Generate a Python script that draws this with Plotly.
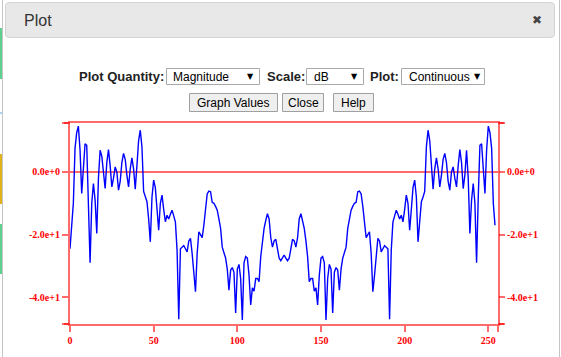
import plotly.graph_objects as go

# ---------------- data ----------------
bins = list(range(256))
magnitude_db = [
    -24.5, -17, -10, 7.5, 12.5, 14.6, 7, -6.9, 2, 9,
    8.5, -8, -29, -10, -3.7, -9, -19.6, -2, 6.9, 5,
    -1, -5.3, 3, 7.1, 2, -4.8, -2, 1.6, 0, -5.8,
    -3, 3, 5.9, 4, -1, -4.8, 1, 4.5, 1, -5.5,
    2, 10, 13.3, 8, -6.2, -8, -9.5, -15, -22.3, -8,
    -2.6, -5, -12, -18.6, -10, -7.4, -12, -15.9, -13.8, -15,
    -13.5, -12.2, -14, -16, -25, -47, -24.5, -24, -23.5, -24.5,
    -25.5, -22, -21.2, -26, -33, -38.2, -26, -19.1, -20, -21,
    -17, -11, -7, -6.1, -6.3, -9.7, -10, -11, -12.2, -15,
    -18, -24, -25.5, -27.5, -31, -37.7, -31.3, -30.5, -32, -45,
    -31, -29.5, -34, -47.2, -29, -27, -27.5, -33, -42.4, -37,
    -38, -34, -34, -35, -27, -22, -18, -15.5, -13.3, -15,
    -21, -24, -22, -21.5, -25, -27.5, -28.3, -27.5, -26.5,
    # k = 129 .. 255
    -27.5, -28.3, -27.5, -25, -21.5, -22, -24, -21, -15, -13.3,
    -15.5, -18, -22, -27, -35, -34, -34, -38, -37, -42.4,
    -33, -27.5, -27, -29, -47.2, -34, -29.5, -31, -45, -32,
    -30.5, -31.3, -37.7, -31, -27.5, -25.5, -24, -18, -15, -12.2,
    -11, -10, -9.7, -6.3, -6.1, -7, -11, -17, -21, -20,
    -19.1, -26, -38.2, -33, -26, -21.2, -22, -25.5, -24.5, -23.5,
    -24, -24.5, -47, -25, -16, -14, -12.2, -13.5, -15, -13.8,
    -15.9, -12, -7.4, -10, -18.6, -12, -5, -2.6, -8, -22.3,
    -15, -9.5, -8, -6.2, 8, 13.3, 10, 2, -5.5, 1,
    4.5, 1, -4.8, -1, 4, 5.9, 3, -3, -5.8, 0,
    1.6, -2, -4.8, 2, 7.1, 3, -5.3, -1, 6.9, -2,
    -19.6, -9, -3.7, -10, -29, -8, 8.5, 9, 2, -6.9,
    7, 14.6, 12.5, 7.5, -10, -17,
]

x_ticks = [0, 50, 100, 150, 200, 250]
x_ticklabels = ["0", "50", "100", "150", "200", "250"]
y_ticks = [-48.5, -40, -20, 0, 15.6]
y_ticklabels = ["", "-4.0e+1", "-2.0e+1", "0.0e+0", ""]
x_range = [0, 255.8]
y_range = [-48.5, 15.6]

# ---------------- geometry ----------------
W, H = 561, 357
ML, MR, MT, MB = 70, 63, 123, 33
PW, PH = W - ML - MR, H - MT - MB


def xp(px):
    return (px - ML) / PW


def yp(py):
    return (H - MB - py) / PH


AX_RED = "rgba(255,0,0,0.58)"
TXT_RED = "#ff0000"

fig = go.Figure()
fig.add_trace(go.Scatter(x=bins, y=magnitude_db, mode="lines",
                         line=dict(color="#0000ff", width=1.4),
                         hoverinfo="skip", showlegend=False))
fig.add_trace(go.Scatter(x=bins, y=magnitude_db, mode="lines", yaxis="y2",
                         line=dict(color="rgba(0,0,0,0)", width=0),
                         hoverinfo="skip", showlegend=False))

tickfont = dict(family="Liberation Serif, Times New Roman, serif", size=10, color=TXT_RED, weight="bold")

fig.update_layout(
    width=W, height=H, autosize=False,
    margin=dict(l=ML, r=MR, t=MT, b=MB, pad=0),
    paper_bgcolor="white", plot_bgcolor="white",
    xaxis=dict(range=x_range, tickvals=x_ticks + [255.8], ticktext=x_ticklabels + [""],
               ticks="outside", ticklen=6, tickwidth=2, tickcolor=AX_RED,
               showline=True, linecolor=AX_RED, linewidth=2, mirror=True,
               showgrid=False, zeroline=False, tickfont=tickfont, fixedrange=True),
    yaxis=dict(range=y_range, tickvals=y_ticks, ticktext=y_ticklabels,
               ticks="outside", ticklen=6, tickwidth=2, tickcolor=AX_RED,
               showline=True, linecolor=AX_RED, linewidth=2, mirror=True,
               showgrid=False, zeroline=True, zerolinecolor=AX_RED, zerolinewidth=2,
               tickfont=tickfont, fixedrange=True),
    yaxis2=dict(range=y_range, tickvals=y_ticks, ticktext=y_ticklabels,
                overlaying="y", side="right",
                ticks="outside", ticklen=6, tickwidth=2, tickcolor=AX_RED,
                showline=False, showgrid=False, zeroline=False,
                tickfont=tickfont, fixedrange=True),
)

shapes = []
annots = []


def rect(x0, y0, x1, y1, fill, line, lw=1):
    shapes.append(dict(type="rect", xref="paper", yref="paper",
                       x0=xp(x0), x1=xp(x1), y0=yp(y1), y1=yp(y0),
                       fillcolor=fill, line=dict(color=line, width=lw), layer="above"))


def text(x, y, s, size=13, bold=False, color="#000", anchor="left", family="Liberation Sans, Arial, DejaVu Sans"):
    annots.append(dict(xref="paper", yref="paper", x=xp(x), y=yp(y), text=s,
                       showarrow=False, xanchor=anchor, yanchor="middle",
                       font=dict(family=family, size=size, color=color,
                                 weight="bold" if bold else "normal")))


# page edges behind dialog
shapes.append(dict(type="line", xref="paper", yref="paper", x0=xp(2.5), x1=xp(2.5), y0=yp(0), y1=yp(357),
                   line=dict(color="#c4c4c4", width=1)))
shapes.append(dict(type="line", xref="paper", yref="paper", x0=xp(559.5), x1=xp(559.5), y0=yp(0), y1=yp(357),
                   line=dict(color="#c4c4c4", width=1)))
rect(0, 28, 2, 79, "#5fd08f", "rgba(0,0,0,0)", 0)
rect(0, 154, 2, 204, "#e0b21c", "rgba(0,0,0,0)", 0)
rect(0, 224, 2, 274, "#5fd08f", "rgba(0,0,0,0)", 0)
rect(0, 112.5, 2, 113.5, "#4aa8e0", "rgba(0,0,0,0)", 0)

# title bar
shapes.append(dict(type="path", xref="paper", yref="paper",
                   path=(f"M {xp(9)},{yp(2.5)} L {xp(551)},{yp(2.5)} Q {xp(554.5)},{yp(2.5)} {xp(554.5)},{yp(6)} "
                         f"L {xp(554.5)},{yp(34)} Q {xp(554.5)},{yp(37.5)} {xp(551)},{yp(37.5)} "
                         f"L {xp(9)},{yp(37.5)} Q {xp(5.5)},{yp(37.5)} {xp(5.5)},{yp(34)} "
                         f"L {xp(5.5)},{yp(6)} Q {xp(5.5)},{yp(2.5)} {xp(9)},{yp(2.5)} Z"),
                   fillcolor="#e8e8e8", line=dict(color="#d3d3d3", width=1), layer="above"))
text(22, 20, "Plot", size=16, color="#333333")
text(537, 20, "✖", size=12, color="#444444", anchor="center", family="DejaVu Sans")

# control row 1
text(77, 76, "Plot Quantity:", size=13, bold=True, color="#222")
rect(166.5, 68.5, 259.5, 84.5, "#ffffff", "#a9a9a9")
text(171, 76.5, "Magnitude", size=12, color="#000")
text(250, 76.5, "▼", size=8, color="#000", anchor="center", family="DejaVu Sans")

text(265, 76, "Scale:", size=13, bold=True, color="#222")
rect(306.5, 68.5, 363.5, 84.5, "#ffffff", "#a9a9a9")
text(311.5, 76.5, "dB", size=12, color="#000")
text(354.5, 76.5, "▼", size=8, color="#000", anchor="center", family="DejaVu Sans")

text(368, 76, "Plot:", size=13, bold=True, color="#222")
rect(401.5, 68.5, 484.5, 84.5, "#ffffff", "#a9a9a9")
text(406.5, 76.5, "Continuous", size=12, color="#000")
text(477, 76.5, "▼", size=8, color="#000", anchor="center", family="DejaVu Sans")

# control row 2 (buttons)
rect(189.5, 93.5, 277.5, 111.5, "#efefef", "#a0a0a0")
text(233.5, 102.5, "Graph Values", size=12, color="#000", anchor="center")
rect(282.5, 93.5, 323.5, 111.5, "#efefef", "#a0a0a0")
text(303, 102.5, "Close", size=12, color="#000", anchor="center")
rect(333.5, 93.5, 373.5, 111.5, "#efefef", "#a0a0a0")
text(353.5, 102.5, "Help", size=12, color="#000", anchor="center")

# axis line extensions (top & bottom frame lines overhang by a tick length)
for py in (123, 324):
    for (a, b) in ((64, 70), (498, 504)):
        shapes.append(dict(type="line", xref="paper", yref="paper", x0=xp(a), x1=xp(b), y0=yp(py), y1=yp(py),
                           line=dict(color=AX_RED, width=2)))

fig.update_layout(shapes=shapes, annotations=annots)
fig.write_html("out.html")
